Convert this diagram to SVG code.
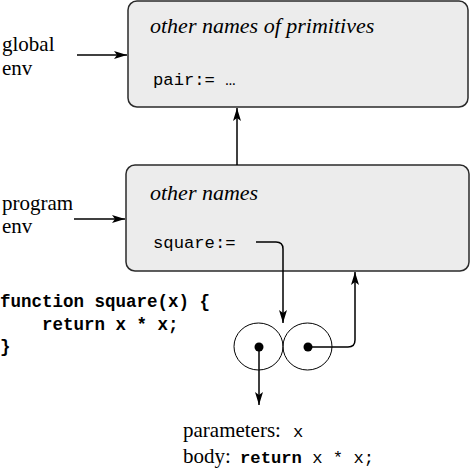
<svg xmlns="http://www.w3.org/2000/svg" width="470" height="470" viewBox="0 0 470 470">
<style>
.box{fill:#ececec;stroke:#2a2a2a;stroke-width:1.5}
.con{fill:none;stroke:#000;stroke-width:1.5}
.serif{font-family:"Liberation Serif","Times New Roman",serif;font-size:21px;fill:#000}
.it{font-family:"Liberation Serif","Times New Roman",serif;font-style:italic;font-size:22px;fill:#000}
.mono{font-family:"Liberation Mono","Courier New",monospace;font-size:17.2px;fill:#000}
.bmono{font-family:"Liberation Mono","Courier New",monospace;font-size:17.5px;font-weight:bold;fill:#000}
.ring{fill:none;stroke:#000;stroke-width:1}
</style>
<defs>
<marker id="ah" viewBox="0 0 13 8" refX="13" refY="4" markerWidth="13" markerHeight="8" markerUnits="userSpaceOnUse" orient="auto">
<path d="M0,0 L13,4 L0,8 L3,4 Z" fill="#000"/>
</marker>
</defs>
<g id="global-frame">
<rect class="box" x="128" y="1" width="340" height="106" rx="9"/>
<text class="it" x="150" y="33">other names of primitives</text>
<text class="mono" x="153" y="85">pair:= …</text>
</g>
<g id="program-frame">
<rect class="box" x="126" y="165" width="343" height="106" rx="9"/>
<text class="it" x="150" y="200">other names</text>
<text class="mono" x="153" y="248">square:=</text>
</g>
<g id="global-label">
<text class="serif" x="2" y="51">global</text>
<text class="serif" x="2" y="75">env</text>
</g>
<g id="program-label">
<text class="serif" x="2" y="210">program</text>
<text class="serif" x="2" y="233">env</text>
</g>
<g id="code">
<text class="bmono" x="0" y="307" xml:space="preserve">function square(x) {</text>
<text class="bmono" x="0" y="330" xml:space="preserve">    return x * x;</text>
<text class="bmono" x="0" y="352">}</text>
</g>
<g id="function-object">
<ellipse class="ring" cx="258.5" cy="346.5" rx="24.5" ry="23.5"/>
<ellipse class="ring" cx="307.5" cy="346.5" rx="24.5" ry="23.5"/>
<circle cx="259" cy="347" r="4.5" fill="#000"/>
<circle cx="308" cy="347" r="4.5" fill="#000"/>
</g>
<g id="function-info">
<text class="serif" x="183" y="437">parameters:</text>
<text class="mono" x="293" y="437">x</text>
<text class="serif" x="183" y="463">body:</text>
<text x="240" y="463" xml:space="preserve"><tspan class="bmono" style="font-size:17.2px">return</tspan><tspan class="mono"> x * x;</tspan></text>
</g>
<g id="connectors">
<path class="con" d="M77,55 H127" marker-end="url(#ah)"/>
<path class="con" d="M74,219 H125" marker-end="url(#ah)"/>
<path class="con" d="M237,165 V108" marker-end="url(#ah)"/>
<path class="con" d="M256,242 H276 Q283,242 283,249 V323" marker-end="url(#ah)"/>
<path class="con" d="M259,347 V405" marker-end="url(#ah)"/>
<path class="con" d="M308,347 H348 Q355,347 355,340 V272" marker-end="url(#ah)"/>
</g>
</svg>
